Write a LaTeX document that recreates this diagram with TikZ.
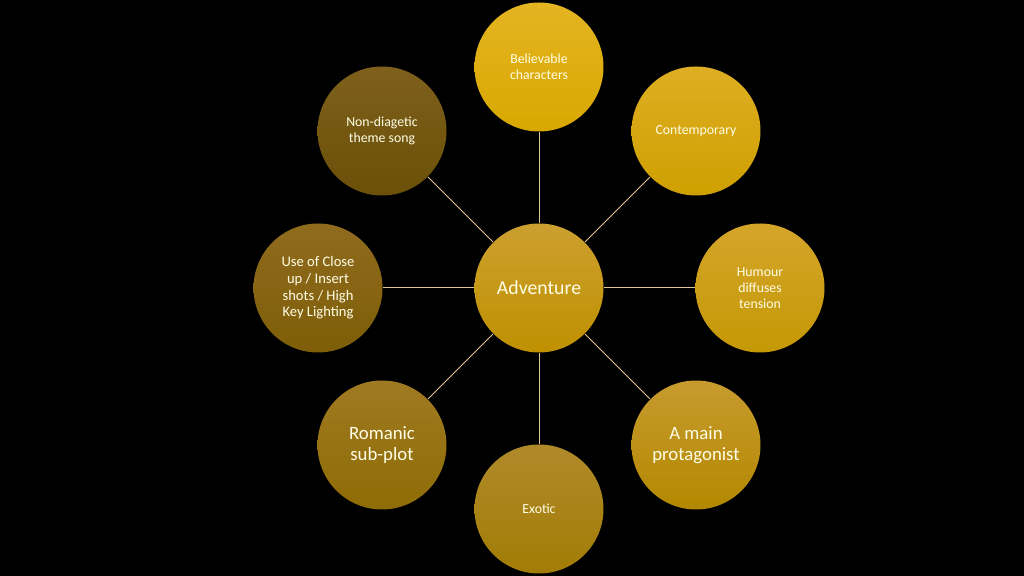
\documentclass[tikz,border=0pt]{standalone}
\usepackage{fontspec}
\setmainfont{Carlito}
\begin{document}
\begin{tikzpicture}[x=0.5pt,y=-0.5pt,
  bubble/.style={circle,minimum size=64.5pt,inner sep=0pt,align=center,text=white!90!yellow},
  small/.style={font=\fontsize{6.9pt}{8pt}\selectfont},
  mid/.style={font=\fontsize{7.3pt}{8.3pt}\selectfont},
  big/.style={font=\fontsize{9.4pt}{10.2pt}\selectfont},
  center/.style={font=\fontsize{9.9pt}{11pt}\selectfont},
  spoke/.style={draw=spokecol,line width=0.5pt}]
\definecolor{spokecol}{HTML}{E0C890}
\fill[black] (0,0) rectangle (1024,576);
\useasboundingbox (0,0) rectangle (1024,576);
\node[bubble,center,top color={rgb,255:red,204;green,160;blue,48},bottom color={rgb,255:red,191;green,144;blue,0}] (c) at (539,288) {Adventure};
\node[bubble,small,top color={rgb,255:red,228;green,180;blue,34},bottom color={rgb,255:red,216;green,168;blue,0}] (n) at (539,67) {Believable\\characters};
\node[bubble,small,top color={rgb,255:red,221;green,174;blue,34},bottom color={rgb,255:red,207;green,160;blue,0}] (ne) at (696,131) {Contemporary};
\node[bubble,small,top color={rgb,255:red,212;green,165;blue,42},bottom color={rgb,255:red,197;green,152;blue,5}] (e) at (760,288) {Humour\\diffuses\\tension};
\node[bubble,big,top color={rgb,255:red,199;green,155;blue,46},bottom color={rgb,255:red,179;green,136;blue,0}] (se) at (696,445) {A main\\protagonist};
\node[bubble,small,top color={rgb,255:red,176;green,138;blue,42},bottom color={rgb,255:red,162;green,124;blue,5}] (s) at (539,509) {Exotic};
\node[bubble,big,top color={rgb,255:red,160;green,122;blue,34},bottom color={rgb,255:red,142;green,108;blue,5}] (sw) at (382,445) {Romanic\\sub-plot};
\node[bubble,mid,top color={rgb,255:red,143;green,107;blue,30},bottom color={rgb,255:red,126;green,94;blue,8}] (w) at (318,288) {Use of Close\\up / Insert\\shots / High\\Key Lighting};
\node[bubble,small,top color={rgb,255:red,126;green,96;blue,28},bottom color={rgb,255:red,106;green,80;blue,8}] (nw) at (382,131) {Non-diagetic\\theme song};
\foreach \t in {n,ne,e,se,s,sw,w,nw}
  \draw[spoke] (c) -- (\t);
\end{tikzpicture}
\end{document}
